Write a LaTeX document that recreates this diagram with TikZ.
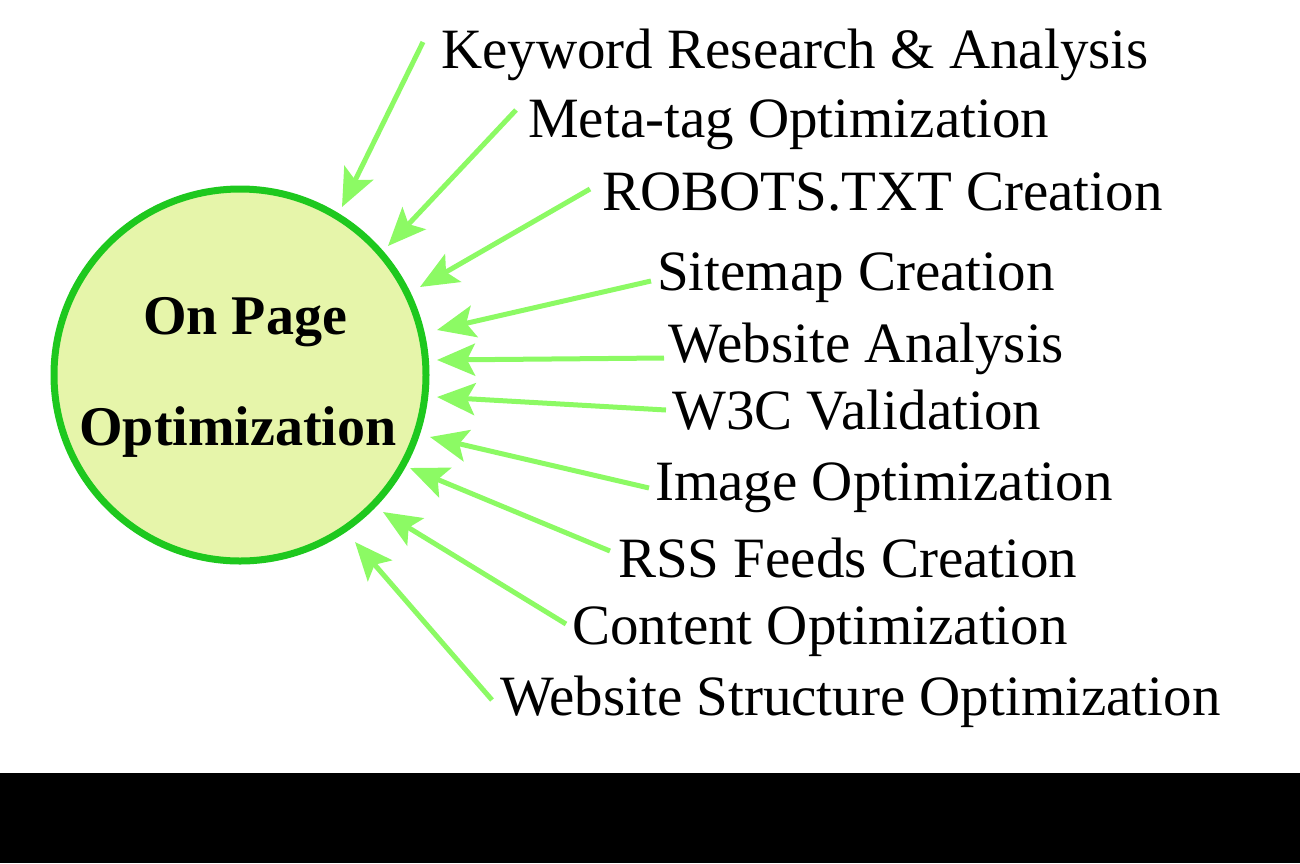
\documentclass[tikz,border=0pt]{standalone}
\usepackage{fontspec}
\setmainfont{Liberation Serif}
\usetikzlibrary{arrows.meta}
\definecolor{ring}{RGB}{30,200,30}
\definecolor{disc}{RGB}{230,245,170}
\definecolor{arr}{RGB}{140,250,100}
\tikzset{
 lbl/.style={anchor=west,inner sep=0pt,font=\fontsize{57}{62}\selectfont},
 ctr/.style={inner sep=0pt,font=\fontsize{56}{62}\selectfont\bfseries},
 con/.style={draw=arr,line width=5pt,-{Stealth[length=38pt,width=32pt,inset=8pt]}}
}
\begin{document}
\begin{tikzpicture}[x=1pt,y=-1pt]
\useasboundingbox (0,0) rectangle (1300,863);
\fill[black] (0,773) rectangle (1300,863);
\node[circle,draw=ring,fill=disc,line width=7pt,minimum size=372pt,inner sep=0pt] (c) at (240,375) {};
\node[ctr] (t1) at (245,322) {On Page};
\node[ctr] (t2) at (238,432) {Optimization};
\node[lbl] (a) at (441,55) {Keyword Research \& Analysis};
\node[lbl] (b) at (528,125) {Meta-tag Optimization};
\node[lbl] (r) at (602,192) {ROBOTS.TXT Creation};
\node[lbl] (s) at (657,278) {Sitemap Creation};
\node[lbl] (w) at (668,349) {Website Analysis};
\node[lbl] (v) at (672,410) {W3C Validation};
\node[lbl] (i) at (655,488) {Image Optimization};
\node[lbl] (f) at (618,558) {RSS Feeds Creation};
\node[lbl] (o) at (572,632) {Content Optimization};
\node[lbl] (x) at (500,702) {Website Structure Optimization};
\coordinate (pa) at (342,207); \coordinate (pb) at (388,246);
\coordinate (pr) at (420,287); \coordinate (ps) at (437,330);
\coordinate (pw) at (437,360); \coordinate (pv) at (437,397);
\coordinate (pi) at (430,437); \coordinate (pf) at (410,468);
\coordinate (po) at (383,512); \coordinate (px) at (355,542);
\draw[con] ([xshift=-18pt,yshift=13pt]a.west) -- (pa);
\draw[con] ([xshift=-12pt,yshift=15pt]b.west) -- (pb);
\draw[con] ([xshift=-12pt,yshift=3pt]r.west) -- (pr);
\draw[con] ([xshift=-6pt,yshift=-3pt]s.west) -- (ps);
\draw[con] ([xshift=-4pt,yshift=-9pt]w.west) -- (pw);
\draw[con] ([xshift=-6pt]v.west) -- (pv);
\draw[con] ([xshift=-6pt]i.west) -- (pi);
\draw[con] ([xshift=-8pt,yshift=7pt]f.west) -- (pf);
\draw[con] ([xshift=-6pt,yshift=8pt]o.west) -- (po);
\draw[con] ([xshift=-8pt,yshift=2pt]x.west) -- (px);
\end{tikzpicture}
\end{document}
